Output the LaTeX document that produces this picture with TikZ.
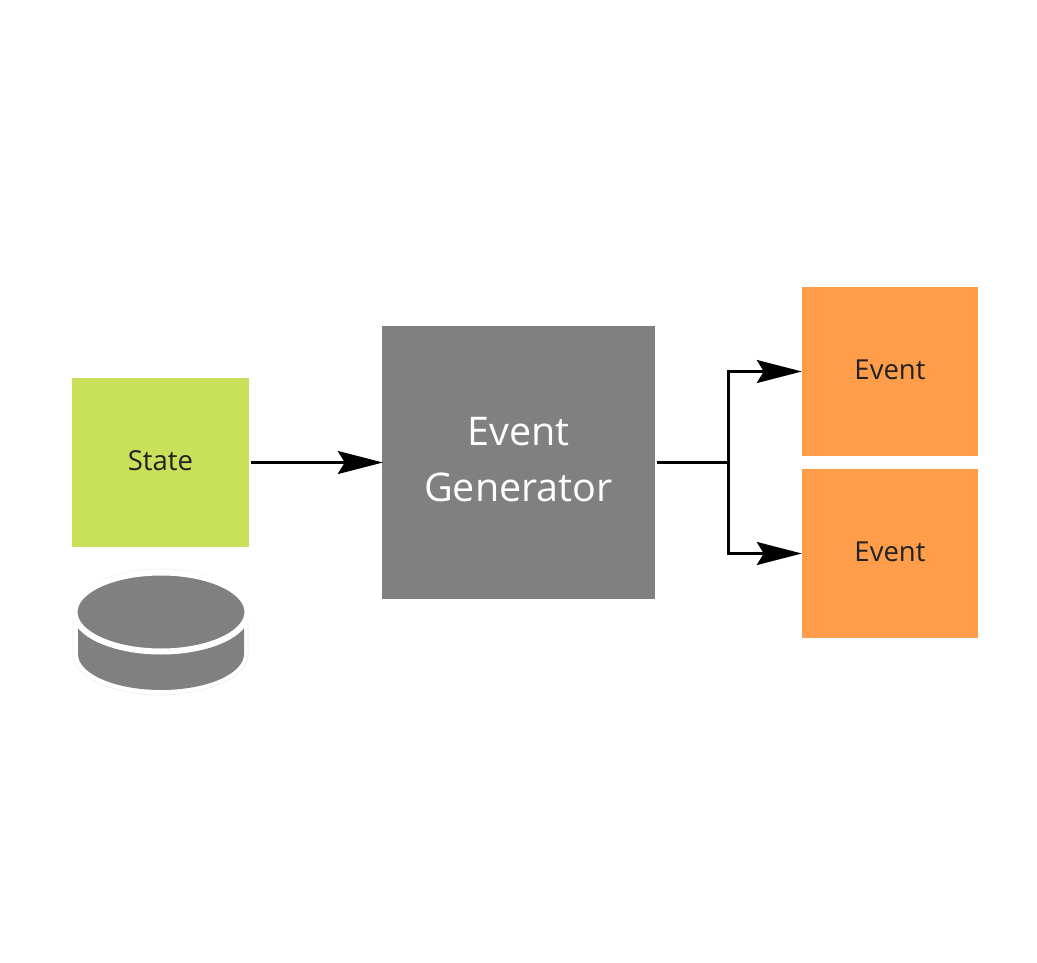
\documentclass[tikz,border=0pt]{standalone}
\usepackage{fontspec}
\setmainfont{Open Sans}
\usetikzlibrary{arrows.meta}
\definecolor{stategreen}{HTML}{C9E05A}
\definecolor{evorange}{HTML}{FF9D4A}
\definecolor{gengray}{HTML}{808080}
\definecolor{inktext}{HTML}{222222}
\tikzset{
  box/.style={draw=none,inner sep=0pt,align=center,font=\fontsize{27.5}{33}\selectfont,text=inktext,text depth=4pt},
  statebox/.style={box,fill=stategreen,minimum width=177pt,minimum height=169pt},
  eventbox/.style={box,fill=evorange,minimum width=176pt,minimum height=169pt},
  genbox/.style={box,fill=gengray,minimum width=273pt,minimum height=273pt,text=white,font=\fontsize{39.5}{56}\selectfont,text depth=6pt},
  conn/.style={line width=3pt,black,line join=miter},
  head/.style={-{Stealth[length=45pt,width=23pt,inset=7pt]}},
  disk/.style={fill=gengray},
}
\begin{document}
\begin{tikzpicture}[x=1pt,y=-1pt]
\useasboundingbox (0,0) rectangle (1037,963);
\fill[white] (0,0) rectangle (1037,963);
\node[statebox] (state) at (160.5,462.5) {State};
\node[genbox] (gen) at (518.5,462.5) {Event\\Generator};
\node[eventbox] (evone) at (890,371.5) {Event};
\node[eventbox] (evtwo) at (890,553.5) {Event};
\coordinate (fork) at (728,462.5);
\draw[conn,head,shorten <=2pt,shorten >=-1pt] (state.east) -- (gen.west);
\draw[conn,shorten <=2pt] (gen.east) -- (fork);
\draw[conn,head] (fork) |- (evone.west);
\draw[conn,head] (fork) |- (evtwo.west);
% database symbol
\draw[black!7,line width=0.6pt] (73,654) arc[start angle=180,end angle=0,x radius=87.5,y radius=41] -- (248,612)
  arc[start angle=360,end angle=180,x radius=87.5,y radius=43] -- cycle;
\fill[disk] (78,612) -- (78,654) arc[start angle=180,end angle=0,x radius=83,y radius=36] -- (244,612) -- cycle;
\draw[disk,draw=white,line width=6pt] (161,612) ellipse[x radius=86.5,y radius=39.5];
\end{tikzpicture}
\end{document}
